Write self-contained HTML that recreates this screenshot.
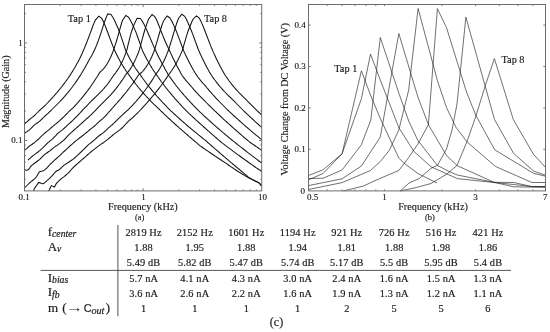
<!DOCTYPE html>
<html><head><meta charset="utf-8"><title>Figure</title>
<style>html,body{margin:0;padding:0;background:#fff;}body{width:550px;height:332px;position:relative;overflow:hidden;}</style>
</head><body>
<svg width="550" height="332" viewBox="0 0 550 332" style="position:absolute;left:0;top:0;font-family:'Liberation Serif','Times New Roman',serif">
<rect width="550" height="332" fill="#fff"/>
<g fill="none" stroke="#111" stroke-width="1.05" stroke-linejoin="miter" stroke-miterlimit="3">
<path d="M24.5 124.1 L25.5 123.0 L26.5 122.2 L27.5 121.3 L28.5 120.4 L29.5 119.5 L30.5 118.7 L31.5 117.9 L32.5 117.1 L33.5 116.3 L34.5 115.5 L35.5 114.5 L36.5 113.5 L37.5 112.5 L38.5 111.5 L39.5 110.5 L40.5 109.6 L41.5 108.7 L42.5 107.8 L43.5 106.9 L44.5 106.0 L45.5 105.0 L46.5 104.0 L47.5 103.0 L48.5 101.9 L49.5 100.9 L50.5 99.8 L51.5 98.7 L52.5 97.6 L53.5 96.5 L54.5 95.3 L55.5 94.2 L56.5 93.1 L57.5 91.9 L58.5 90.7 L59.5 89.5 L60.5 88.3 L61.5 87.0 L62.5 85.7 L63.5 84.4 L64.5 83.1 L65.5 81.8 L66.5 80.4 L67.5 79.0 L68.5 77.5 L69.5 76.1 L70.5 74.6 L71.5 73.0 L72.5 71.4 L73.5 69.8 L74.5 68.1 L75.5 66.4 L76.5 64.6 L77.5 62.8 L78.5 60.9 L79.5 59.0 L80.5 56.9 L81.5 54.8 L82.5 52.6 L83.5 50.3 L84.5 47.9 L85.5 45.5 L86.5 43.0 L87.5 40.4 L88.5 37.8 L89.5 35.1 L90.5 32.4 L91.5 29.7 L92.5 27.0 L93.5 24.4 L94.5 21.9 L95.5 19.8 L98.9 16.1 L101.5 18.1 L102.5 19.7 L103.5 21.8 L104.5 24.1 L105.5 26.6 L106.5 29.2 L107.5 31.8 L108.5 34.5 L109.5 37.2 L110.5 39.9 L111.5 42.5 L112.5 45.1 L113.5 47.6 L114.5 50.0 L115.5 52.2 L116.5 54.3 L117.5 56.3 L118.5 58.3 L119.5 60.1 L120.5 61.9 L121.5 63.7 L122.5 65.3 L123.5 66.9 L124.5 68.5 L125.5 70.0 L126.5 71.5 L127.5 72.9 L128.5 74.2 L129.5 75.6 L130.5 77.0 L131.5 78.4 L132.5 79.8 L133.5 81.1 L134.5 82.4 L135.5 83.7 L136.5 85.0 L137.5 86.2 L138.5 87.5 L139.5 88.7 L140.5 89.8 L141.5 91.0 L142.5 92.2 L143.5 93.3 L144.5 94.4 L145.5 95.5 L146.5 96.6 L147.5 97.6 L148.5 98.7 L149.5 99.7 L150.5 100.8 L151.5 101.8 L152.5 102.8 L153.5 103.8 L154.5 104.8 L155.5 105.7 L156.5 106.7 L157.5 107.6 L158.5 108.6 L159.5 109.5 L160.5 110.5 L161.5 111.5 L162.5 112.4 L163.5 113.4 L164.5 114.3 L165.5 115.3 L166.5 116.2 L167.5 117.2 L168.5 118.1 L169.5 119.0 L170.5 119.9 L171.5 120.9 L172.5 121.8 L173.5 122.7 L174.5 123.6 L175.5 124.5 L176.5 125.4 L177.5 126.3 L178.5 127.2 L179.5 128.1 L180.5 128.9 L181.5 129.8 L182.5 130.7 L183.5 131.6 L184.5 132.4 L185.5 133.3 L186.5 134.2 L187.5 135.0 L188.5 135.9 L189.5 136.8 L190.5 137.6 L191.5 138.5 L192.5 139.3 L193.5 140.2 L194.5 141.0 L195.5 141.9 L196.5 142.7 L197.5 143.6 L198.5 144.4 L199.5 145.3 L200.5 146.1 L201.5 146.8 L202.5 147.5 L203.5 148.2 L204.5 148.9 L205.5 149.6 L206.5 150.3 L207.5 150.9 L208.5 151.6 L209.5 152.3 L210.5 153.0 L211.5 153.7 L212.5 154.3 L213.5 155.0 L214.5 155.7 L215.5 156.4 L216.5 157.0 L217.5 157.7 L218.5 158.3 L219.5 159.0 L220.5 159.7 L221.5 160.3 L222.5 161.0 L223.5 161.6 L224.5 162.3 L225.5 162.9 L226.5 163.6 L227.5 164.3 L228.5 165.0 L229.5 165.7 L230.5 166.4 L231.5 167.1 L232.5 167.7 L233.5 168.4 L234.5 169.1 L235.5 169.8 L236.5 170.5 L237.5 171.2 L238.5 171.8 L239.5 172.4 L240.5 173.0 L241.5 173.6 L242.5 174.2 L243.5 174.8 L244.5 175.4 L245.5 176.0 L246.5 176.5 L247.5 177.1 L248.5 177.7 L249.5 178.2 L250.5 178.7 L251.5 179.2 L252.5 179.7 L253.5 180.2 L254.5 180.7 L255.5 181.2 L256.5 181.6 L257.5 182.1 L258.5 182.6 L259.5 183.4 L260.5 184.6 L261.5 185.8 L261.7 186.0"/>
<path d="M24.5 133.3 L25.5 132.5 L26.5 131.9 L27.5 131.2 L28.5 130.6 L29.5 129.9 L30.5 128.9 L31.5 127.8 L32.5 126.8 L33.5 125.8 L34.5 124.8 L35.5 124.1 L36.5 123.5 L37.5 122.8 L38.5 122.1 L39.5 121.4 L40.5 120.4 L41.5 119.4 L42.5 118.5 L43.5 117.5 L44.5 116.5 L45.5 115.6 L46.5 114.7 L47.5 113.8 L48.5 112.8 L49.5 111.9 L50.5 111.0 L51.5 110.0 L52.5 109.0 L53.5 108.0 L54.5 107.0 L55.5 106.0 L56.5 105.0 L57.5 104.0 L58.5 103.0 L59.5 102.0 L60.5 100.9 L61.5 99.9 L62.5 98.8 L63.5 97.7 L64.5 96.6 L65.5 95.4 L66.5 94.2 L67.5 93.0 L68.5 91.8 L69.5 90.6 L70.5 89.3 L71.5 88.0 L72.5 86.7 L73.5 85.3 L74.5 84.0 L75.5 82.6 L76.5 81.1 L77.5 79.6 L78.5 78.2 L79.5 76.6 L80.5 75.1 L81.5 73.5 L82.5 71.8 L83.5 70.1 L84.5 68.4 L85.5 66.6 L86.5 64.8 L87.5 62.9 L88.5 61.0 L89.5 59.2 L90.5 57.6 L91.5 55.9 L92.5 54.1 L93.5 52.1 L94.5 50.0 L95.5 47.8 L96.5 45.4 L97.5 42.8 L98.5 40.1 L99.5 37.3 L100.5 34.4 L101.5 31.3 L102.5 28.1 L103.5 24.9 L104.5 21.9 L105.5 19.2 L106.5 16.9 L107.6 14.1 L110.8 14.3 L111.8 15.7 L112.8 17.2 L113.8 19.0 L114.8 21.0 L115.8 23.2 L116.8 25.5 L117.8 27.8 L118.8 30.1 L119.8 32.7 L120.8 35.6 L121.8 38.6 L122.8 41.6 L123.8 44.7 L124.8 47.8 L125.8 50.7 L126.8 52.8 L127.8 54.8 L128.8 56.8 L129.8 58.7 L130.8 60.5 L131.8 62.3 L132.8 64.0 L133.8 65.6 L134.8 67.2 L135.8 68.7 L136.8 70.1 L137.8 71.5 L138.8 72.9 L139.8 74.2 L140.8 75.6 L141.8 77.0 L142.8 78.5 L143.8 79.8 L144.8 81.2 L145.8 82.5 L146.8 83.9 L147.8 85.2 L148.8 86.4 L149.8 87.7 L150.8 88.9 L151.8 90.1 L152.8 91.3 L153.8 92.5 L154.8 93.7 L155.8 94.8 L156.8 96.0 L157.8 97.1 L158.8 98.2 L159.8 99.3 L160.8 100.4 L161.8 101.5 L162.8 102.6 L163.8 103.6 L164.8 104.7 L165.8 105.7 L166.8 106.8 L167.8 107.8 L168.8 108.8 L169.8 109.8 L170.8 110.8 L171.8 111.7 L172.8 112.6 L173.8 113.6 L174.8 114.5 L175.8 115.4 L176.8 116.3 L177.8 117.2 L178.8 118.1 L179.8 119.0 L180.8 119.9 L181.8 120.8 L182.8 121.7 L183.8 122.5 L184.8 123.4 L185.8 124.2 L186.8 125.1 L187.8 126.0 L188.8 126.8 L189.8 127.6 L190.8 128.5 L191.8 129.3 L192.8 130.1 L193.8 131.0 L194.8 131.8 L195.8 132.6 L196.8 133.4 L197.8 134.2 L198.8 135.1 L199.8 135.9 L200.8 136.7 L201.8 137.5 L202.8 138.3 L203.8 139.1 L204.8 139.8 L205.8 140.7 L206.8 141.6 L207.8 142.5 L208.8 143.3 L209.8 144.2 L210.8 145.1 L211.8 146.0 L212.8 146.8 L213.8 147.7 L214.8 148.6 L215.8 149.4 L216.8 150.3 L217.8 151.2 L218.8 152.0 L219.8 152.9 L220.8 153.8 L221.8 154.6 L222.8 155.5 L223.8 156.3 L224.8 157.2 L225.8 158.1 L226.8 158.9 L227.8 159.7 L228.8 160.6 L229.8 161.4 L230.8 162.3 L231.8 163.1 L232.8 164.0 L233.8 164.8 L234.8 165.6 L235.8 166.5 L236.8 167.3 L237.8 168.2 L238.8 169.0 L239.8 169.8 L240.8 170.7 L241.8 171.5 L242.8 172.4 L243.8 173.2 L244.8 174.1 L245.8 174.9 L246.8 175.7 L247.8 176.6 L248.8 177.4 L249.8 178.0 L250.8 178.6 L251.8 179.1 L252.8 179.6 L253.8 180.1 L254.8 180.7 L255.8 181.2 L256.8 181.7 L257.8 182.2 L258.8 182.7 L259.8 183.7 L260.8 184.9 L261.7 186.0"/>
<path d="M24.5 150.5 L25.5 149.5 L26.5 148.7 L27.5 147.8 L28.5 146.9 L29.5 146.0 L30.5 145.4 L31.5 144.7 L32.5 144.0 L33.5 143.3 L34.5 142.6 L35.5 141.7 L36.5 140.9 L37.5 140.0 L38.5 139.1 L39.5 138.2 L40.5 137.2 L41.5 136.2 L42.5 135.2 L43.5 134.3 L44.5 133.3 L45.5 132.5 L46.5 131.7 L47.5 130.9 L48.5 130.1 L49.5 129.3 L50.5 128.4 L51.5 127.5 L52.5 126.7 L53.5 125.8 L54.5 124.9 L55.5 124.1 L56.5 123.3 L57.5 122.5 L58.5 121.7 L59.5 120.9 L60.5 119.9 L61.5 119.0 L62.5 118.0 L63.5 117.1 L64.5 116.1 L65.5 115.1 L66.5 114.1 L67.5 113.1 L68.5 112.0 L69.5 111.0 L70.5 110.1 L71.5 109.2 L72.5 108.3 L73.5 107.4 L74.5 106.4 L75.5 105.2 L76.5 104.1 L77.5 102.9 L78.5 101.8 L79.5 100.6 L80.5 99.5 L81.5 98.3 L82.5 97.1 L83.5 95.9 L84.5 94.6 L85.5 93.4 L86.5 92.1 L87.5 90.8 L88.5 89.4 L89.5 88.1 L90.5 86.7 L91.5 85.2 L92.5 83.8 L93.5 82.3 L94.5 80.8 L95.5 79.3 L96.5 77.8 L97.5 76.2 L98.5 74.5 L99.5 72.9 L100.5 71.6 L101.5 70.8 L102.5 69.9 L103.5 68.8 L104.5 67.6 L105.5 66.3 L106.5 64.9 L107.5 63.3 L108.5 61.5 L109.5 59.6 L110.5 57.5 L111.5 55.2 L112.5 52.8 L113.5 50.1 L114.5 47.3 L115.5 44.2 L116.5 41.0 L117.5 37.7 L118.5 34.1 L119.5 30.5 L120.5 26.9 L121.5 23.5 L122.5 20.4 L125.8 15.5 L128.4 17.1 L129.4 18.5 L130.4 20.3 L131.4 22.2 L132.4 24.3 L133.4 26.4 L134.4 28.6 L135.4 30.9 L136.4 33.4 L137.4 36.2 L138.4 39.0 L139.4 41.8 L140.4 44.7 L141.4 47.6 L142.4 50.4 L143.4 52.5 L144.4 54.6 L145.4 56.5 L146.4 58.4 L147.4 60.3 L148.4 62.1 L149.4 63.8 L150.4 65.5 L151.4 67.1 L152.4 68.7 L153.4 70.2 L154.4 71.7 L155.4 73.2 L156.4 74.6 L157.4 76.0 L158.4 77.5 L159.4 78.9 L160.4 80.3 L161.4 81.7 L162.4 83.0 L163.4 84.4 L164.4 85.7 L165.4 87.0 L166.4 88.3 L167.4 89.5 L168.4 90.8 L169.4 92.0 L170.4 93.2 L171.4 94.4 L172.4 95.6 L173.4 96.7 L174.4 97.9 L175.4 99.1 L176.4 100.2 L177.4 101.3 L178.4 102.4 L179.4 103.5 L180.4 104.6 L181.4 105.7 L182.4 106.8 L183.4 107.8 L184.4 108.8 L185.4 109.9 L186.4 110.9 L187.4 111.9 L188.4 112.8 L189.4 113.8 L190.4 114.7 L191.4 115.7 L192.4 116.6 L193.4 117.5 L194.4 118.4 L195.4 119.4 L196.4 120.3 L197.4 121.2 L198.4 122.1 L199.4 123.0 L200.4 123.9 L201.4 124.8 L202.4 125.7 L203.4 126.6 L204.4 127.5 L205.4 128.4 L206.4 129.3 L207.4 130.2 L208.4 131.1 L209.4 131.9 L210.4 132.8 L211.4 133.7 L212.4 134.6 L213.4 135.4 L214.4 136.3 L215.4 137.2 L216.4 138.0 L217.4 138.9 L218.4 139.8 L219.4 140.6 L220.4 141.5 L221.4 142.3 L222.4 143.1 L223.4 143.8 L224.4 144.6 L225.4 145.4 L226.4 146.1 L227.4 146.9 L228.4 147.7 L229.4 148.4 L230.4 149.2 L231.4 149.9 L232.4 150.6 L233.4 151.4 L234.4 152.1 L235.4 152.9 L236.4 153.6 L237.4 154.3 L238.4 155.1 L239.4 155.8 L240.4 156.5 L241.4 157.2 L242.4 158.0 L243.4 158.7 L244.4 159.4 L245.4 160.1 L246.4 160.8 L247.4 161.5 L248.4 162.2 L249.4 163.0 L250.4 163.7 L251.4 164.4 L252.4 165.1 L253.4 165.8 L254.4 166.5 L255.4 167.2 L256.4 167.9 L257.4 168.5 L258.4 169.2 L259.4 169.9 L260.4 170.6 L261.4 171.3 L261.7 171.5"/>
<path d="M28.0 160.0 L29.0 159.2 L30.0 158.3 L31.0 157.4 L32.0 156.5 L33.0 155.6 L34.0 154.9 L35.0 154.2 L36.0 153.4 L37.0 152.7 L38.0 152.0 L39.0 151.1 L40.0 150.3 L41.0 149.4 L42.0 148.6 L43.0 147.7 L44.0 146.7 L45.0 145.7 L46.0 144.6 L47.0 143.6 L48.0 142.6 L49.0 141.8 L50.0 140.9 L51.0 140.1 L52.0 139.3 L53.0 138.4 L54.0 137.4 L55.0 136.3 L56.0 135.3 L57.0 134.2 L58.0 133.2 L59.0 132.4 L60.0 131.7 L61.0 130.9 L62.0 130.2 L63.0 129.4 L64.0 128.5 L65.0 127.5 L66.0 126.6 L67.0 125.6 L68.0 124.7 L69.0 123.8 L70.0 122.9 L71.0 122.0 L72.0 121.1 L73.0 120.2 L74.0 119.2 L75.0 118.2 L76.0 117.2 L77.0 116.2 L78.0 115.2 L79.0 114.1 L80.0 113.0 L81.0 111.9 L82.0 110.8 L83.0 109.7 L84.0 108.7 L85.0 107.7 L86.0 106.7 L87.0 105.6 L88.0 104.6 L89.0 103.5 L90.0 102.4 L91.0 101.4 L92.0 100.3 L93.0 99.4 L94.0 98.5 L95.0 97.5 L96.0 96.6 L97.0 95.6 L98.0 94.7 L99.0 93.7 L100.0 92.7 L101.0 91.7 L102.0 90.6 L103.0 89.5 L104.0 88.4 L105.0 87.2 L106.0 86.0 L107.0 84.8 L108.0 83.5 L109.0 82.1 L110.0 80.7 L111.0 79.3 L112.0 77.8 L113.0 76.3 L114.0 74.8 L115.0 73.6 L116.0 72.3 L117.0 70.9 L118.0 69.3 L119.0 67.7 L120.0 66.0 L121.0 64.1 L122.0 62.1 L123.0 59.9 L124.0 57.6 L125.0 55.1 L126.0 52.5 L127.0 49.6 L128.0 45.2 L129.0 41.1 L130.0 37.1 L131.0 33.4 L132.0 30.2 L133.0 27.5 L134.0 24.9 L135.0 22.5 L136.0 20.6 L137.1 18.2 L140.3 18.4 L141.3 19.8 L142.3 21.2 L143.3 22.9 L144.3 24.8 L145.3 26.9 L146.3 29.1 L147.3 31.3 L148.3 33.7 L149.3 36.0 L150.3 38.4 L151.3 40.8 L152.3 43.1 L153.3 45.4 L154.3 47.7 L155.3 50.0 L156.3 52.1 L157.3 54.2 L158.3 56.2 L159.3 58.2 L160.3 60.1 L161.3 62.1 L162.3 63.9 L163.3 65.8 L164.3 67.6 L165.3 69.4 L166.3 71.2 L167.3 72.9 L168.3 74.7 L169.3 76.2 L170.3 77.6 L171.3 79.0 L172.3 80.4 L173.3 81.8 L174.3 83.1 L175.3 84.5 L176.3 85.8 L177.3 87.0 L178.3 88.3 L179.3 89.5 L180.3 90.8 L181.3 92.0 L182.3 93.1 L183.3 94.3 L184.3 95.5 L185.3 96.6 L186.3 97.7 L187.3 98.8 L188.3 99.9 L189.3 101.0 L190.3 102.1 L191.3 103.2 L192.3 104.2 L193.3 105.3 L194.3 106.3 L195.3 107.4 L196.3 108.4 L197.3 109.4 L198.3 110.4 L199.3 111.3 L200.3 112.3 L201.3 113.2 L202.3 114.2 L203.3 115.1 L204.3 116.1 L205.3 117.0 L206.3 117.9 L207.3 118.8 L208.3 119.7 L209.3 120.6 L210.3 121.5 L211.3 122.4 L212.3 123.3 L213.3 124.2 L214.3 125.1 L215.3 125.9 L216.3 126.8 L217.3 127.7 L218.3 128.5 L219.3 129.4 L220.3 130.2 L221.3 131.1 L222.3 131.9 L223.3 132.8 L224.3 133.6 L225.3 134.5 L226.3 135.3 L227.3 136.1 L228.3 137.0 L229.3 137.8 L230.3 138.6 L231.3 139.5 L232.3 140.3 L233.3 141.1 L234.3 141.9 L235.3 142.7 L236.3 143.5 L237.3 144.3 L238.3 145.1 L239.3 145.9 L240.3 146.7 L241.3 147.4 L242.3 148.2 L243.3 149.0 L244.3 149.8 L245.3 150.5 L246.3 151.3 L247.3 152.1 L248.3 152.9 L249.3 153.6 L250.3 154.4 L251.3 155.2 L252.3 155.9 L253.3 156.7 L254.3 157.4 L255.3 158.2 L256.3 158.9 L257.3 159.7 L258.3 160.5 L259.3 161.2 L260.3 162.0 L261.3 162.7 L261.7 163.0"/>
<path d="M24.5 170.0 L25.5 170.0 L26.5 170.2 L27.5 170.1 L28.5 169.5 L29.5 168.4 L30.5 166.8 L31.5 165.6 L32.5 164.8 L33.5 164.0 L34.5 163.3 L35.5 162.5 L36.5 161.8 L37.5 161.0 L38.5 160.3 L39.5 159.6 L40.5 158.6 L41.5 157.6 L42.5 156.6 L43.5 155.6 L44.5 154.7 L45.5 153.9 L46.5 153.2 L47.5 152.5 L48.5 151.8 L49.5 151.1 L50.5 150.3 L51.5 149.5 L52.5 148.7 L53.5 147.9 L54.5 147.1 L55.5 146.4 L56.5 145.8 L57.5 145.1 L58.5 144.4 L59.5 143.7 L60.5 142.9 L61.5 142.0 L62.5 141.2 L63.5 140.3 L64.5 139.5 L65.5 138.4 L66.5 137.3 L67.5 136.2 L68.5 135.1 L69.5 134.0 L70.5 133.1 L71.5 132.3 L72.5 131.4 L73.5 130.5 L74.5 129.6 L75.5 128.7 L76.5 127.9 L77.5 127.0 L78.5 126.1 L79.5 125.2 L80.5 124.3 L81.5 123.4 L82.5 122.5 L83.5 121.6 L84.5 120.7 L85.5 119.8 L86.5 118.9 L87.5 118.0 L88.5 117.1 L89.5 116.2 L90.5 115.3 L91.5 114.3 L92.5 113.4 L93.5 112.4 L94.5 111.4 L95.5 110.3 L96.5 109.3 L97.5 108.2 L98.5 107.2 L99.5 106.1 L100.5 105.1 L101.5 104.1 L102.5 103.2 L103.5 102.2 L104.5 101.2 L105.5 100.2 L106.5 99.2 L107.5 98.2 L108.5 97.2 L109.5 96.2 L110.5 95.1 L111.5 93.9 L112.5 92.8 L113.5 91.6 L114.5 90.4 L115.5 89.2 L116.5 87.9 L117.5 86.6 L118.5 85.3 L119.5 84.0 L120.5 82.6 L121.5 81.1 L122.5 79.7 L123.5 78.2 L124.5 76.6 L125.5 75.0 L126.5 73.9 L127.5 72.7 L128.5 71.4 L129.5 70.1 L130.5 68.6 L131.5 67.0 L132.5 65.3 L133.5 63.4 L134.5 61.5 L135.5 59.4 L136.5 57.1 L137.5 54.7 L138.5 52.2 L139.5 49.3 L140.5 45.5 L141.5 41.8 L142.5 38.1 L143.5 34.5 L144.5 31.0 L145.5 27.8 L146.5 24.8 L147.5 21.9 L148.5 19.3 L152.1 14.5 L154.7 16.5 L155.7 18.1 L156.7 20.2 L157.7 22.5 L158.7 25.0 L159.7 27.6 L160.7 30.2 L161.7 32.8 L162.7 35.4 L163.7 37.8 L164.7 40.2 L165.7 42.5 L166.7 44.7 L167.7 46.8 L168.7 48.8 L169.7 50.9 L170.7 53.1 L171.7 55.3 L172.7 57.4 L173.7 59.4 L174.7 61.5 L175.7 63.5 L176.7 65.4 L177.7 67.4 L178.7 69.3 L179.7 71.1 L180.7 73.0 L181.7 74.8 L182.7 76.2 L183.7 77.6 L184.7 78.8 L185.7 80.1 L186.7 81.3 L187.7 82.5 L188.7 83.6 L189.7 84.7 L190.7 85.8 L191.7 87.0 L192.7 88.1 L193.7 89.3 L194.7 90.4 L195.7 91.6 L196.7 92.7 L197.7 93.7 L198.7 94.8 L199.7 95.9 L200.7 96.9 L201.7 97.9 L202.7 98.9 L203.7 99.9 L204.7 100.9 L205.7 102.0 L206.7 103.0 L207.7 104.0 L208.7 105.0 L209.7 105.9 L210.7 106.9 L211.7 107.9 L212.7 108.8 L213.7 109.8 L214.7 110.8 L215.7 111.7 L216.7 112.7 L217.7 113.7 L218.7 114.6 L219.7 115.5 L220.7 116.5 L221.7 117.4 L222.7 118.3 L223.7 119.3 L224.7 120.2 L225.7 121.1 L226.7 122.0 L227.7 122.9 L228.7 123.8 L229.7 124.7 L230.7 125.6 L231.7 126.5 L232.7 127.4 L233.7 128.3 L234.7 129.2 L235.7 130.0 L236.7 130.9 L237.7 131.8 L238.7 132.7 L239.7 133.5 L240.7 134.4 L241.7 135.3 L242.7 136.1 L243.7 137.0 L244.7 137.8 L245.7 138.7 L246.7 139.5 L247.7 140.4 L248.7 141.2 L249.7 142.1 L250.7 142.8 L251.7 143.5 L252.7 144.1 L253.7 144.8 L254.7 145.5 L255.7 146.2 L256.7 146.9 L257.7 147.5 L258.7 148.2 L259.7 148.9 L260.7 149.5 L261.7 150.2"/>
<path d="M24.5 187.3 L25.5 187.1 L26.5 186.0 L27.5 185.0 L28.5 184.0 L29.5 183.0 L30.5 182.2 L31.5 181.4 L32.5 180.5 L33.5 179.7 L34.5 178.9 L35.5 177.9 L36.5 176.8 L37.5 175.0 L38.5 173.2 L39.5 171.7 L40.5 171.4 L41.5 171.2 L42.5 170.9 L43.5 170.6 L44.5 170.1 L45.5 169.2 L46.5 168.3 L47.5 167.4 L48.5 166.2 L49.5 165.0 L50.5 164.0 L51.5 163.1 L52.5 162.1 L53.5 161.2 L54.5 160.2 L55.5 159.3 L56.5 158.5 L57.5 157.6 L58.5 156.7 L59.5 155.8 L60.5 154.8 L61.5 153.8 L62.5 152.9 L63.5 151.9 L64.5 151.0 L65.5 150.1 L66.5 149.2 L67.5 148.3 L68.5 147.4 L69.5 146.5 L70.5 145.5 L71.5 144.7 L72.5 143.8 L73.5 142.9 L74.5 142.0 L75.5 141.2 L76.5 140.4 L77.5 139.6 L78.5 138.8 L79.5 138.0 L80.5 137.3 L81.5 136.5 L82.5 135.7 L83.5 135.0 L84.5 134.2 L85.5 133.3 L86.5 132.5 L87.5 131.7 L88.5 130.8 L89.5 130.0 L90.5 129.2 L91.5 128.4 L92.5 127.6 L93.5 126.8 L94.5 126.0 L95.5 125.1 L96.5 124.1 L97.5 123.2 L98.5 122.2 L99.5 121.3 L100.5 120.5 L101.5 119.6 L102.5 118.8 L103.5 117.9 L104.5 117.0 L105.5 115.9 L106.5 114.8 L107.5 113.7 L108.5 112.5 L109.5 111.4 L110.5 110.3 L111.5 109.1 L112.5 108.0 L113.5 106.9 L114.5 105.7 L115.5 104.6 L116.5 103.5 L117.5 102.4 L118.5 101.2 L119.5 100.1 L120.5 99.0 L121.5 97.8 L122.5 96.6 L123.5 95.4 L124.5 94.2 L125.5 93.0 L126.5 91.7 L127.5 90.4 L128.5 89.2 L129.5 87.8 L130.5 86.5 L131.5 85.2 L132.5 83.8 L133.5 82.4 L134.5 81.0 L135.5 79.5 L136.5 78.1 L137.5 76.5 L138.5 75.0 L139.5 74.2 L140.5 73.4 L141.5 72.5 L142.5 71.5 L143.5 70.4 L144.5 69.1 L145.5 67.8 L146.5 66.4 L147.5 64.8 L148.5 63.1 L149.5 61.3 L150.5 59.4 L151.5 57.3 L152.5 55.0 L153.5 52.6 L154.5 50.0 L155.5 46.7 L156.5 43.3 L157.5 39.8 L158.5 36.4 L159.5 33.0 L160.5 29.7 L161.5 26.5 L162.5 23.6 L163.5 20.9 L167.1 16.0 L169.7 17.7 L170.7 19.2 L171.7 20.9 L172.7 23.0 L173.7 25.1 L174.7 27.4 L175.7 29.7 L176.7 32.1 L177.7 34.7 L178.7 37.4 L179.7 40.1 L180.7 42.8 L181.7 45.6 L182.7 48.3 L183.7 50.9 L184.7 53.1 L185.7 55.2 L186.7 57.3 L187.7 59.3 L188.7 61.3 L189.7 63.2 L190.7 65.1 L191.7 66.9 L192.7 68.7 L193.7 70.5 L194.7 72.2 L195.7 73.8 L196.7 75.4 L197.7 76.8 L198.7 78.1 L199.7 79.3 L200.7 80.6 L201.7 81.8 L202.7 82.9 L203.7 84.0 L204.7 85.1 L205.7 86.2 L206.7 87.5 L207.7 88.7 L208.7 89.9 L209.7 91.1 L210.7 92.2 L211.7 93.4 L212.7 94.5 L213.7 95.6 L214.7 96.7 L215.7 97.8 L216.7 98.8 L217.7 99.9 L218.7 100.9 L219.7 102.0 L220.7 103.0 L221.7 104.0 L222.7 105.0 L223.7 106.0 L224.7 107.0 L225.7 108.0 L226.7 109.0 L227.7 110.0 L228.7 110.9 L229.7 111.9 L230.7 112.8 L231.7 113.7 L232.7 114.7 L233.7 115.6 L234.7 116.5 L235.7 117.4 L236.7 118.3 L237.7 119.2 L238.7 120.1 L239.7 121.0 L240.7 121.9 L241.7 122.8 L242.7 123.7 L243.7 124.6 L244.7 125.4 L245.7 126.3 L246.7 127.2 L247.7 128.0 L248.7 128.9 L249.7 129.7 L250.7 130.6 L251.7 131.4 L252.7 132.3 L253.7 133.1 L254.7 133.9 L255.7 134.8 L256.7 135.6 L257.7 136.4 L258.7 137.2 L259.7 138.1 L260.7 138.9 L261.7 139.7"/>
<path d="M33.5 190.8 L34.5 188.4 L35.5 186.9 L36.5 185.5 L37.5 184.1 L38.5 182.6 L39.5 182.6 L40.5 183.0 L41.5 183.5 L42.5 183.8 L43.5 183.6 L44.5 182.8 L45.5 181.9 L46.5 181.1 L47.5 180.2 L48.5 179.3 L49.5 178.3 L50.5 177.3 L51.5 176.4 L52.5 175.4 L53.5 174.2 L54.5 173.0 L55.5 171.8 L56.5 171.0 L57.5 170.6 L58.5 170.2 L59.5 169.3 L60.5 168.5 L61.5 167.6 L62.5 166.6 L63.5 165.6 L64.5 164.9 L65.5 164.3 L66.5 163.6 L67.5 163.0 L68.5 162.3 L69.5 161.7 L70.5 161.0 L71.5 160.3 L72.5 159.6 L73.5 158.9 L74.5 158.0 L75.5 157.1 L76.5 156.2 L77.5 155.3 L78.5 154.3 L79.5 153.4 L80.5 152.5 L81.5 151.5 L82.5 150.6 L83.5 149.7 L84.5 148.6 L85.5 147.6 L86.5 146.6 L87.5 145.6 L88.5 144.7 L89.5 143.9 L90.5 143.1 L91.5 142.3 L92.5 141.5 L93.5 140.7 L94.5 139.8 L95.5 138.9 L96.5 138.0 L97.5 137.1 L98.5 136.2 L99.5 135.5 L100.5 134.8 L101.5 134.1 L102.5 133.4 L103.5 132.7 L104.5 131.7 L105.5 130.8 L106.5 129.8 L107.5 128.9 L108.5 127.9 L109.5 127.1 L110.5 126.2 L111.5 125.4 L112.5 124.5 L113.5 123.6 L114.5 122.6 L115.5 121.6 L116.5 120.6 L117.5 119.6 L118.5 118.6 L119.5 117.7 L120.5 116.7 L121.5 115.8 L122.5 114.9 L123.5 113.9 L124.5 113.0 L125.5 112.1 L126.5 111.2 L127.5 110.3 L128.5 109.4 L129.5 108.4 L130.5 107.4 L131.5 106.3 L132.5 105.3 L133.5 104.2 L134.5 103.1 L135.5 102.0 L136.5 100.8 L137.5 99.7 L138.5 98.5 L139.5 97.3 L140.5 96.1 L141.5 94.9 L142.5 93.6 L143.5 92.3 L144.5 91.0 L145.5 89.7 L146.5 88.3 L147.5 87.0 L148.5 85.5 L149.5 84.1 L150.5 82.6 L151.5 81.1 L152.5 79.6 L153.5 78.0 L154.5 76.3 L155.5 74.7 L156.5 73.4 L157.5 72.0 L158.5 70.6 L159.5 69.0 L160.5 67.3 L161.5 65.6 L162.5 63.7 L163.5 61.8 L164.5 59.7 L165.5 57.5 L166.5 55.1 L167.5 52.6 L168.5 50.0 L169.5 46.9 L170.5 43.6 L171.5 40.4 L172.5 37.0 L173.5 33.7 L174.5 30.3 L175.5 27.1 L176.5 23.9 L177.5 21.0 L178.5 18.4 L181.8 14.2 L184.4 16.0 L185.4 17.5 L186.4 19.3 L187.4 21.4 L188.4 23.7 L189.4 26.0 L190.4 28.4 L191.4 30.8 L192.4 33.4 L193.4 36.1 L194.4 38.8 L195.4 41.6 L196.4 44.3 L197.4 47.0 L198.4 49.7 L199.4 52.0 L200.4 54.2 L201.4 56.4 L202.4 58.5 L203.4 60.5 L204.4 62.5 L205.4 64.5 L206.4 66.4 L207.4 68.2 L208.4 70.1 L209.4 71.9 L210.4 73.6 L211.4 75.3 L212.4 76.7 L213.4 78.1 L214.4 79.5 L215.4 80.8 L216.4 82.1 L217.4 83.4 L218.4 84.6 L219.4 85.9 L220.4 87.0 L221.4 88.2 L222.4 89.3 L223.4 90.4 L224.4 91.5 L225.4 92.5 L226.4 93.6 L227.4 94.6 L228.4 95.6 L229.4 96.5 L230.4 97.5 L231.4 98.4 L232.4 99.4 L233.4 100.3 L234.4 101.4 L235.4 102.4 L236.4 103.5 L237.4 104.5 L238.4 105.5 L239.4 106.5 L240.4 107.5 L241.4 108.5 L242.4 109.5 L243.4 110.5 L244.4 111.5 L245.4 112.4 L246.4 113.4 L247.4 114.4 L248.4 115.3 L249.4 116.2 L250.4 117.2 L251.4 118.1 L252.4 119.0 L253.4 119.9 L254.4 120.9 L255.4 121.8 L256.4 122.7 L257.4 123.6 L258.4 124.5 L259.4 125.4 L260.4 126.3 L261.4 127.1 L261.7 127.4"/>
<path d="M48.4 190.8 L49.4 189.8 L50.4 187.5 L51.4 185.6 L52.4 186.1 L53.4 186.6 L54.4 187.0 L55.4 185.2 L56.4 183.4 L57.4 182.3 L58.4 181.4 L59.4 180.4 L60.4 179.3 L61.4 178.6 L62.4 177.9 L63.4 177.2 L64.4 176.4 L65.4 175.5 L66.4 174.6 L67.4 173.8 L68.4 172.9 L69.4 171.8 L70.4 170.7 L71.4 169.5 L72.4 168.4 L73.4 167.3 L74.4 166.4 L75.4 165.5 L76.4 164.6 L77.4 163.7 L78.4 162.8 L79.4 162.0 L80.4 161.1 L81.4 160.2 L82.4 159.4 L83.4 158.5 L84.4 157.6 L85.4 156.8 L86.4 155.9 L87.4 155.0 L88.4 154.1 L89.4 153.3 L90.4 152.4 L91.4 151.5 L92.4 150.7 L93.4 149.8 L94.4 149.1 L95.4 148.3 L96.4 147.6 L97.4 146.9 L98.4 146.1 L99.4 145.3 L100.4 144.6 L101.4 143.9 L102.4 143.3 L103.4 142.7 L104.4 141.9 L105.4 141.2 L106.4 140.4 L107.4 139.6 L108.4 138.9 L109.4 138.0 L110.4 137.2 L111.4 136.3 L112.4 135.5 L113.4 134.6 L114.4 133.9 L115.4 133.2 L116.4 132.4 L117.4 131.7 L118.4 130.9 L119.4 130.2 L120.4 129.4 L121.4 128.5 L122.4 127.6 L123.4 126.7 L124.4 125.6 L125.4 124.5 L126.4 123.4 L127.4 122.3 L128.4 121.2 L129.4 120.4 L130.4 119.5 L131.4 118.7 L132.4 117.8 L133.4 116.9 L134.4 116.0 L135.4 115.0 L136.4 114.0 L137.4 113.1 L138.4 112.1 L139.4 111.0 L140.4 110.0 L141.4 108.9 L142.4 107.8 L143.4 106.7 L144.4 105.7 L145.4 104.6 L146.4 103.5 L147.4 102.4 L148.4 101.2 L149.4 100.1 L150.4 98.9 L151.4 97.7 L152.4 96.5 L153.4 95.3 L154.4 94.1 L155.4 92.9 L156.4 91.7 L157.4 90.4 L158.4 89.1 L159.4 87.9 L160.4 86.5 L161.4 85.2 L162.4 83.8 L163.4 82.4 L164.4 81.0 L165.4 79.6 L166.4 78.1 L167.4 76.6 L168.4 75.0 L169.4 73.7 L170.4 72.4 L171.4 71.0 L172.4 69.5 L173.4 68.0 L174.4 66.4 L175.4 64.7 L176.4 62.9 L177.4 61.1 L178.4 59.1 L179.4 57.1 L180.4 54.9 L181.4 52.6 L182.4 50.2 L183.4 46.8 L184.4 43.2 L185.4 39.8 L186.4 36.4 L187.4 33.2 L188.4 30.3 L189.4 27.7 L190.4 25.2 L191.4 22.8 L192.4 20.6 L193.4 18.7 L196.4 15.9 L199.0 17.8 L200.0 19.4 L201.0 21.4 L202.0 23.6 L203.0 26.0 L204.0 28.5 L205.0 31.0 L206.0 33.7 L207.0 36.3 L208.0 38.9 L209.0 41.5 L210.0 44.1 L211.0 46.6 L212.0 49.0 L213.0 51.4 L214.0 53.6 L215.0 55.8 L216.0 57.9 L217.0 60.0 L218.0 62.0 L219.0 64.0 L220.0 66.0 L221.0 67.8 L222.0 69.7 L223.0 71.5 L224.0 73.3 L225.0 75.0 L226.0 76.5 L227.0 77.9 L228.0 79.3 L229.0 80.7 L230.0 82.0 L231.0 83.3 L232.0 84.6 L233.0 85.8 L234.0 87.0 L235.0 88.2 L236.0 89.3 L237.0 90.4 L238.0 91.5 L239.0 92.6 L240.0 93.6 L241.0 94.7 L242.0 95.7 L243.0 96.7 L244.0 97.6 L245.0 98.6 L246.0 99.5 L247.0 100.5 L248.0 101.6 L249.0 102.6 L250.0 103.6 L251.0 104.7 L252.0 105.7 L253.0 106.7 L254.0 107.7 L255.0 108.6 L256.0 109.6 L257.0 110.6 L258.0 111.5 L259.0 112.5 L260.0 113.4 L261.0 114.4 L261.7 115.0"/>
</g>
<rect x="24.5" y="4.5" width="237.2" height="186.4" fill="none" stroke="#6c6c6c" stroke-width="1"/>
<path d="M60.2 190.9 v-1.4 M60.2 4.5 v1.4 M81.1 190.9 v-1.4 M81.1 4.5 v1.4 M95.9 190.9 v-1.4 M95.9 4.5 v1.4 M107.4 190.9 v-1.4 M107.4 4.5 v1.4 M116.8 190.9 v-1.4 M116.8 4.5 v1.4 M124.7 190.9 v-1.4 M124.7 4.5 v1.4 M131.6 190.9 v-1.4 M131.6 4.5 v1.4 M137.7 190.9 v-1.4 M137.7 4.5 v1.4 M143.1 190.9 v-2.6 M143.1 4.5 v2.6 M178.8 190.9 v-1.4 M178.8 4.5 v1.4 M199.7 190.9 v-1.4 M199.7 4.5 v1.4 M214.5 190.9 v-1.4 M214.5 4.5 v1.4 M226.0 190.9 v-1.4 M226.0 4.5 v1.4 M235.4 190.9 v-1.4 M235.4 4.5 v1.4 M243.3 190.9 v-1.4 M243.3 4.5 v1.4 M250.2 190.9 v-1.4 M250.2 4.5 v1.4 M256.3 190.9 v-1.4 M256.3 4.5 v1.4 M24.5 179.3 h1.4 M261.7 179.3 h-1.4 M24.5 169.9 h1.4 M261.7 169.9 h-1.4 M24.5 162.1 h1.4 M261.7 162.1 h-1.4 M24.5 155.6 h1.4 M261.7 155.6 h-1.4 M24.5 149.9 h1.4 M261.7 149.9 h-1.4 M24.5 145.0 h1.4 M261.7 145.0 h-1.4 M24.5 140.5 h2.6 M261.7 140.5 h-2.6 M24.5 111.1 h1.4 M261.7 111.1 h-1.4 M24.5 94.0 h1.4 M261.7 94.0 h-1.4 M24.5 81.8 h1.4 M261.7 81.8 h-1.4 M24.5 72.4 h1.4 M261.7 72.4 h-1.4 M24.5 64.6 h1.4 M261.7 64.6 h-1.4 M24.5 58.1 h1.4 M261.7 58.1 h-1.4 M24.5 52.4 h1.4 M261.7 52.4 h-1.4 M24.5 47.5 h1.4 M261.7 47.5 h-1.4 M24.5 43.0 h2.6 M261.7 43.0 h-2.6 M24.5 13.6 h1.4 M261.7 13.6 h-1.4" stroke="#6c6c6c" stroke-width="0.9" fill="none"/>
<g fill="none" stroke="#222" stroke-width="0.65" stroke-linejoin="miter">
<path d="M308.5 175.5 L323.2 169.7 L342.1 153.7 L361.4 70.8 L370.5 95.0 L380.3 118.5 L398.8 158.0 L404.0 163.2 L417.9 173.5 L437.0 183.0"/>
<path d="M308.5 179.9 L323.2 173.4 L342.1 153.7 L361.4 98.7 L370.5 54.1 L380.3 80.0 L398.8 127.5 L413.8 151.3 L431.0 166.8 L444.0 172.6 L457.3 178.6 L494.0 182.5 L513.6 184.5 L531.5 186.5 L545.5 186.6"/>
<path d="M308.5 178.5 L323.2 178.2 L342.1 170.0 L361.4 144.7 L370.8 120.0 L380.3 37.5 L398.8 93.0 L408.7 121.0 L417.9 140.5 L437.4 165.4 L448.4 171.2 L457.3 175.0 L494.0 182.3 L513.6 182.5 L531.5 186.5 L545.5 186.5"/>
<path d="M308.5 185.6 L342.1 178.8 L361.4 166.0 L380.3 137.0 L398.8 33.5 L417.9 97.0 L428.4 124.7 L446.5 155.5 L457.3 165.7 L494.0 182.3 L513.6 186.8 L545.5 187.4"/>
<path d="M308.5 189.5 L342.1 182.6 L370.5 170.5 L380.3 161.5 L389.5 150.0 L398.8 130.0 L408.7 90.0 L418.1 8.5 L437.4 80.5 L446.5 107.6 L456.0 127.3 L466.9 141.8 L495.7 166.6 L532.0 182.5 L545.5 182.5"/>
<path d="M343.5 190.9 L363.2 186.1 L380.3 178.3 L398.8 170.5 L408.7 157.5 L417.9 144.0 L428.4 124.7 L437.4 8.7 L446.5 27.6 L466.5 92.0 L475.7 115.0 L494.7 149.8 L533.5 173.3 L545.5 176.2"/>
<path d="M400.4 190.9 L409.0 183.0 L419.3 178.5 L431.0 168.3 L437.4 165.4 L446.5 149.0 L452.0 130.0 L457.0 104.0 L465.9 17.2 L494.5 119.5 L513.6 153.4 L533.5 171.0 L545.5 175.2"/>
<path d="M400.4 190.9 L416.4 187.5 L431.0 183.5 L447.0 174.0 L457.0 165.4 L466.9 141.8 L475.6 117.0 L485.3 85.5 L494.4 58.6 L513.3 119.5 L533.4 154.2 L545.5 167.5"/>
</g>
<rect x="308.5" y="4.5" width="237.0" height="186.4" fill="none" stroke="#6c6c6c" stroke-width="1"/>
<path d="M327.1 190.9 v-1.5 M327.1 4.5 v1.5 M342.2 190.9 v-1.5 M342.2 4.5 v1.5 M355.0 190.9 v-1.5 M355.0 4.5 v1.5 M366.0 190.9 v-1.5 M366.0 4.5 v1.5 M375.8 190.9 v-1.5 M375.8 4.5 v1.5 M384.5 190.9 v-1.5 M384.5 4.5 v1.5 M441.9 190.9 v-1.5 M441.9 4.5 v1.5 M475.5 190.9 v-1.5 M475.5 4.5 v1.5 M499.3 190.9 v-1.5 M499.3 4.5 v1.5 M517.8 190.9 v-1.5 M517.8 4.5 v1.5 M532.9 190.9 v-1.5 M532.9 4.5 v1.5 M308.5 149.3 h2.2 M545.5 149.3 h-2.2 M308.5 107.9 h2.2 M545.5 107.9 h-2.2 M308.5 66.5 h2.2 M545.5 66.5 h-2.2 M308.5 25.1 h2.2 M545.5 25.1 h-2.2" stroke="#6c6c6c" stroke-width="0.9" fill="none"/>
<text x="20.5" y="46.0" font-size="9.00" text-anchor="middle" fill="#1a1a1a"  stroke="#1a1a1a" stroke-width="0.15">1</text>
<text x="16.8" y="142.8" font-size="9.00" text-anchor="middle" fill="#1a1a1a"  stroke="#1a1a1a" stroke-width="0.15">0.1</text>
<text x="24.1" y="199.8" font-size="9.00" text-anchor="middle" fill="#1a1a1a"  stroke="#1a1a1a" stroke-width="0.15">0.1</text>
<text x="143.4" y="199.6" font-size="9.00" text-anchor="middle" fill="#1a1a1a"  stroke="#1a1a1a" stroke-width="0.15">1</text>
<text x="262.4" y="199.8" font-size="9.00" text-anchor="middle" fill="#1a1a1a"  stroke="#1a1a1a" stroke-width="0.15">10</text>
<text x="142.9" y="209.6" font-size="10.25" text-anchor="middle" fill="#1a1a1a"  stroke="#1a1a1a" stroke-width="0.15">Frequency (kHz)</text>
<text x="139.7" y="220.0" font-size="8.50" text-anchor="middle" fill="#1a1a1a"  stroke="#1a1a1a" stroke-width="0.15">(a)</text>
<text transform="translate(9.4 91.8) rotate(-90)" font-size="10.1" text-anchor="middle" fill="#1a1a1a" stroke="#1a1a1a" stroke-width="0.15">Magnitude (Gain)</text>
<text x="79.3" y="21.6" font-size="10.30" text-anchor="middle" fill="#1a1a1a"  stroke="#1a1a1a" stroke-width="0.15">Tap 1</text>
<text x="215.5" y="21.6" font-size="10.30" text-anchor="middle" fill="#1a1a1a"  stroke="#1a1a1a" stroke-width="0.15">Tap 8</text>
<text x="300.0" y="27.7" font-size="9.00" text-anchor="middle" fill="#1a1a1a"  stroke="#1a1a1a" stroke-width="0.15">0.4</text>
<text x="300.0" y="68.9" font-size="9.00" text-anchor="middle" fill="#1a1a1a"  stroke="#1a1a1a" stroke-width="0.15">0.3</text>
<text x="300.0" y="110.5" font-size="9.00" text-anchor="middle" fill="#1a1a1a"  stroke="#1a1a1a" stroke-width="0.15">0.2</text>
<text x="300.0" y="151.9" font-size="9.00" text-anchor="middle" fill="#1a1a1a"  stroke="#1a1a1a" stroke-width="0.15">0.1</text>
<text x="302.7" y="194.0" font-size="9.00" text-anchor="middle" fill="#1a1a1a"  stroke="#1a1a1a" stroke-width="0.15">0</text>
<text x="312.6" y="200.2" font-size="9.00" text-anchor="middle" fill="#1a1a1a"  stroke="#1a1a1a" stroke-width="0.15">0.5</text>
<text x="384.4" y="200.4" font-size="9.00" text-anchor="middle" fill="#1a1a1a"  stroke="#1a1a1a" stroke-width="0.15">1</text>
<text x="475.4" y="200.4" font-size="9.00" text-anchor="middle" fill="#1a1a1a"  stroke="#1a1a1a" stroke-width="0.15">3</text>
<text x="545.3" y="200.4" font-size="9.00" text-anchor="middle" fill="#1a1a1a"  stroke="#1a1a1a" stroke-width="0.15">7</text>
<text x="433.0" y="209.6" font-size="10.25" text-anchor="middle" fill="#1a1a1a"  stroke="#1a1a1a" stroke-width="0.15">Frequency (kHz)</text>
<text x="430.0" y="220.0" font-size="8.50" text-anchor="middle" fill="#1a1a1a"  stroke="#1a1a1a" stroke-width="0.15">(b)</text>
<text transform="translate(287.6 99.3) rotate(-90)" font-size="10.1" text-anchor="middle" fill="#1a1a1a" stroke="#1a1a1a" stroke-width="0.15">Voltage Change from DC Voltage (V)</text>
<text x="345.8" y="72.0" font-size="10.30" text-anchor="middle" fill="#1a1a1a"  stroke="#1a1a1a" stroke-width="0.15">Tap 1</text>
<text x="513.0" y="63.3" font-size="10.30" text-anchor="middle" fill="#1a1a1a"  stroke="#1a1a1a" stroke-width="0.15">Tap 8</text>
<text x="143.6" y="235.7" font-size="10.35" text-anchor="middle" fill="#1a1a1a" letter-spacing="0.12" stroke="#1a1a1a" stroke-width="0.18">2819 Hz</text>
<text x="194.8" y="235.7" font-size="10.35" text-anchor="middle" fill="#1a1a1a" letter-spacing="0.12" stroke="#1a1a1a" stroke-width="0.18">2152 Hz</text>
<text x="246.3" y="235.7" font-size="10.35" text-anchor="middle" fill="#1a1a1a" letter-spacing="0.12" stroke="#1a1a1a" stroke-width="0.18">1601 Hz</text>
<text x="297.7" y="235.7" font-size="10.35" text-anchor="middle" fill="#1a1a1a" letter-spacing="0.12" stroke="#1a1a1a" stroke-width="0.18">1194 Hz</text>
<text x="346.8" y="235.7" font-size="10.35" text-anchor="middle" fill="#1a1a1a" letter-spacing="0.12" stroke="#1a1a1a" stroke-width="0.18">921 Hz</text>
<text x="394.2" y="235.7" font-size="10.35" text-anchor="middle" fill="#1a1a1a" letter-spacing="0.12" stroke="#1a1a1a" stroke-width="0.18">726 Hz</text>
<text x="441.1" y="235.7" font-size="10.35" text-anchor="middle" fill="#1a1a1a" letter-spacing="0.12" stroke="#1a1a1a" stroke-width="0.18">516 Hz</text>
<text x="488.0" y="235.7" font-size="10.35" text-anchor="middle" fill="#1a1a1a" letter-spacing="0.12" stroke="#1a1a1a" stroke-width="0.18">421 Hz</text>
<text x="143.6" y="250.9" font-size="10.35" text-anchor="middle" fill="#1a1a1a" letter-spacing="0.12" stroke="#1a1a1a" stroke-width="0.18">1.88</text>
<text x="194.8" y="250.9" font-size="10.35" text-anchor="middle" fill="#1a1a1a" letter-spacing="0.12" stroke="#1a1a1a" stroke-width="0.18">1.95</text>
<text x="246.3" y="250.9" font-size="10.35" text-anchor="middle" fill="#1a1a1a" letter-spacing="0.12" stroke="#1a1a1a" stroke-width="0.18">1.88</text>
<text x="297.7" y="250.9" font-size="10.35" text-anchor="middle" fill="#1a1a1a" letter-spacing="0.12" stroke="#1a1a1a" stroke-width="0.18">1.94</text>
<text x="346.8" y="250.9" font-size="10.35" text-anchor="middle" fill="#1a1a1a" letter-spacing="0.12" stroke="#1a1a1a" stroke-width="0.18">1.81</text>
<text x="394.2" y="250.9" font-size="10.35" text-anchor="middle" fill="#1a1a1a" letter-spacing="0.12" stroke="#1a1a1a" stroke-width="0.18">1.88</text>
<text x="441.1" y="250.9" font-size="10.35" text-anchor="middle" fill="#1a1a1a" letter-spacing="0.12" stroke="#1a1a1a" stroke-width="0.18">1.98</text>
<text x="488.0" y="250.9" font-size="10.35" text-anchor="middle" fill="#1a1a1a" letter-spacing="0.12" stroke="#1a1a1a" stroke-width="0.18">1.86</text>
<text x="143.6" y="265.8" font-size="10.35" text-anchor="middle" fill="#1a1a1a" letter-spacing="0.12" stroke="#1a1a1a" stroke-width="0.18">5.49 dB</text>
<text x="194.8" y="265.8" font-size="10.35" text-anchor="middle" fill="#1a1a1a" letter-spacing="0.12" stroke="#1a1a1a" stroke-width="0.18">5.82 dB</text>
<text x="246.3" y="265.8" font-size="10.35" text-anchor="middle" fill="#1a1a1a" letter-spacing="0.12" stroke="#1a1a1a" stroke-width="0.18">5.47 dB</text>
<text x="297.7" y="265.8" font-size="10.35" text-anchor="middle" fill="#1a1a1a" letter-spacing="0.12" stroke="#1a1a1a" stroke-width="0.18">5.74 dB</text>
<text x="346.8" y="265.8" font-size="10.35" text-anchor="middle" fill="#1a1a1a" letter-spacing="0.12" stroke="#1a1a1a" stroke-width="0.18">5.17 dB</text>
<text x="394.2" y="265.8" font-size="10.35" text-anchor="middle" fill="#1a1a1a" letter-spacing="0.12" stroke="#1a1a1a" stroke-width="0.18">5.5 dB</text>
<text x="441.1" y="265.8" font-size="10.35" text-anchor="middle" fill="#1a1a1a" letter-spacing="0.12" stroke="#1a1a1a" stroke-width="0.18">5.95 dB</text>
<text x="488.0" y="265.8" font-size="10.35" text-anchor="middle" fill="#1a1a1a" letter-spacing="0.12" stroke="#1a1a1a" stroke-width="0.18">5.4 dB</text>
<text x="143.6" y="281.7" font-size="10.35" text-anchor="middle" fill="#1a1a1a" letter-spacing="0.12" stroke="#1a1a1a" stroke-width="0.18">5.7 nA</text>
<text x="194.8" y="281.7" font-size="10.35" text-anchor="middle" fill="#1a1a1a" letter-spacing="0.12" stroke="#1a1a1a" stroke-width="0.18">4.1 nA</text>
<text x="246.3" y="281.7" font-size="10.35" text-anchor="middle" fill="#1a1a1a" letter-spacing="0.12" stroke="#1a1a1a" stroke-width="0.18">4.3 nA</text>
<text x="297.7" y="281.7" font-size="10.35" text-anchor="middle" fill="#1a1a1a" letter-spacing="0.12" stroke="#1a1a1a" stroke-width="0.18">3.0 nA</text>
<text x="346.8" y="281.7" font-size="10.35" text-anchor="middle" fill="#1a1a1a" letter-spacing="0.12" stroke="#1a1a1a" stroke-width="0.18">2.4 nA</text>
<text x="394.2" y="281.7" font-size="10.35" text-anchor="middle" fill="#1a1a1a" letter-spacing="0.12" stroke="#1a1a1a" stroke-width="0.18">1.6 nA</text>
<text x="441.1" y="281.7" font-size="10.35" text-anchor="middle" fill="#1a1a1a" letter-spacing="0.12" stroke="#1a1a1a" stroke-width="0.18">1.5 nA</text>
<text x="488.0" y="281.7" font-size="10.35" text-anchor="middle" fill="#1a1a1a" letter-spacing="0.12" stroke="#1a1a1a" stroke-width="0.18">1.3 nA</text>
<text x="143.6" y="296.7" font-size="10.35" text-anchor="middle" fill="#1a1a1a" letter-spacing="0.12" stroke="#1a1a1a" stroke-width="0.18">3.6 nA</text>
<text x="194.8" y="296.7" font-size="10.35" text-anchor="middle" fill="#1a1a1a" letter-spacing="0.12" stroke="#1a1a1a" stroke-width="0.18">2.6 nA</text>
<text x="246.3" y="296.7" font-size="10.35" text-anchor="middle" fill="#1a1a1a" letter-spacing="0.12" stroke="#1a1a1a" stroke-width="0.18">2.2 nA</text>
<text x="297.7" y="296.7" font-size="10.35" text-anchor="middle" fill="#1a1a1a" letter-spacing="0.12" stroke="#1a1a1a" stroke-width="0.18">1.6 nA</text>
<text x="346.8" y="296.7" font-size="10.35" text-anchor="middle" fill="#1a1a1a" letter-spacing="0.12" stroke="#1a1a1a" stroke-width="0.18">1.9 nA</text>
<text x="394.2" y="296.7" font-size="10.35" text-anchor="middle" fill="#1a1a1a" letter-spacing="0.12" stroke="#1a1a1a" stroke-width="0.18">1.3 nA</text>
<text x="441.1" y="296.7" font-size="10.35" text-anchor="middle" fill="#1a1a1a" letter-spacing="0.12" stroke="#1a1a1a" stroke-width="0.18">1.2 nA</text>
<text x="488.0" y="296.7" font-size="10.35" text-anchor="middle" fill="#1a1a1a" letter-spacing="0.12" stroke="#1a1a1a" stroke-width="0.18">1.1 nA</text>
<text x="143.6" y="312.1" font-size="10.35" text-anchor="middle" fill="#1a1a1a" letter-spacing="0.12" stroke="#1a1a1a" stroke-width="0.18">1</text>
<text x="194.8" y="312.1" font-size="10.35" text-anchor="middle" fill="#1a1a1a" letter-spacing="0.12" stroke="#1a1a1a" stroke-width="0.18">1</text>
<text x="246.3" y="312.1" font-size="10.35" text-anchor="middle" fill="#1a1a1a" letter-spacing="0.12" stroke="#1a1a1a" stroke-width="0.18">1</text>
<text x="297.7" y="312.1" font-size="10.35" text-anchor="middle" fill="#1a1a1a" letter-spacing="0.12" stroke="#1a1a1a" stroke-width="0.18">1</text>
<text x="346.8" y="312.1" font-size="10.35" text-anchor="middle" fill="#1a1a1a" letter-spacing="0.12" stroke="#1a1a1a" stroke-width="0.18">2</text>
<text x="394.2" y="312.1" font-size="10.35" text-anchor="middle" fill="#1a1a1a" letter-spacing="0.12" stroke="#1a1a1a" stroke-width="0.18">5</text>
<text x="441.1" y="312.1" font-size="10.35" text-anchor="middle" fill="#1a1a1a" letter-spacing="0.12" stroke="#1a1a1a" stroke-width="0.18">5</text>
<text x="488.0" y="312.1" font-size="10.35" text-anchor="middle" fill="#1a1a1a" letter-spacing="0.12" stroke="#1a1a1a" stroke-width="0.18">6</text>
<text x="47.7" y="235.8" font-size="13.0" fill="#1a1a1a" stroke="#1a1a1a" stroke-width="0.2">f<tspan font-size="9.7" font-style="italic" dy="1.6">center</tspan></text>
<text x="47.7" y="250.6" font-size="13.0" fill="#1a1a1a" stroke="#1a1a1a" stroke-width="0.2">A<tspan font-size="9.7" font-style="italic" dy="1.6">v</tspan></text>
<text x="47.7" y="281.5" font-size="13.0" fill="#1a1a1a" stroke="#1a1a1a" stroke-width="0.2">I<tspan font-size="9.7" font-style="italic" dy="1.6">bias</tspan></text>
<text x="47.7" y="296.3" font-size="13.0" fill="#1a1a1a" stroke="#1a1a1a" stroke-width="0.2">I<tspan font-size="9.7" font-style="italic" dy="1.6">fb</tspan></text>
<text y="312.3" font-size="13.0" fill="#1a1a1a" stroke="#1a1a1a" stroke-width="0.2"><tspan x="47.9">m</tspan><tspan x="62.3">(</tspan><tspan x="83.7" font-family="'Liberation Sans',sans-serif" font-size="11">C</tspan><tspan x="91.4" font-size="10.2" font-style="italic" dy="1.5">out</tspan><tspan x="105.7" dy="-1.5">)</tspan></text>
<text transform="translate(66.0 312.3) scale(1.36 1)" font-size="13.0" fill="#1a1a1a">→</text>
<text x="276.5" y="326.2" font-size="12.00" text-anchor="middle" fill="#1a1a1a"  stroke="#1a1a1a" stroke-width="0.15">(c)</text>
<path d="M40.6 270.4 H511" stroke="#444" stroke-width="0.9" fill="none"/>
<path d="M117.9 225 V316.3" stroke="#555" stroke-width="1" fill="none"/>
</svg>
</body></html>
